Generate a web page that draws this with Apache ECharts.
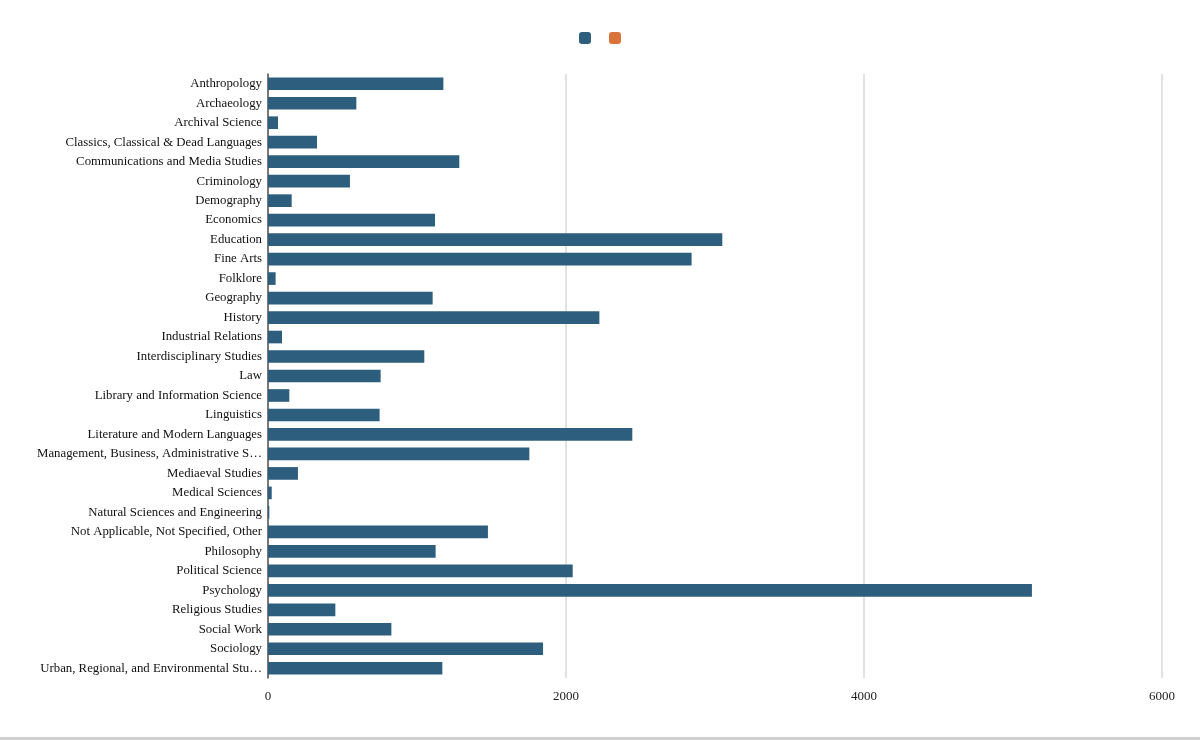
<!DOCTYPE html>
<html>
<head>
<meta charset="utf-8">
<script src="https://cdn.jsdelivr.net/npm/echarts@6/dist/echarts.min.js"></script>
<style>html,body{margin:0;padding:0;background:#fff}#chart{width:1200px;height:740px}</style>
</head>
<body>
<div id="chart"></div>
<script>
var categories = [
  "Anthropology","Archaeology","Archival Science","Classics, Classical & Dead Languages",
  "Communications and Media Studies","Criminology","Demography","Economics","Education",
  "Fine Arts","Folklore","Geography","History","Industrial Relations","Interdisciplinary Studies",
  "Law","Library and Information Science","Linguistics","Literature and Modern Languages",
  "Management, Business, Administrative S\u2026","Mediaeval Studies","Medical Sciences",
  "Natural Sciences and Engineering","Not Applicable, Not Specified, Other","Philosophy",
  "Political Science","Psychology","Religious Studies","Social Work","Sociology",
  "Urban, Regional, and Environmental Stu\u2026"
];
var seriesA = [1177,593,67,329,1284,550,159,1121,3049,2843,51,1105,2224,94,1049,756,143,749,2445,1754,201,25,9,1476,1125,2045,5127,452,828,1846,1170];
var seriesB = [];
var xTicks = [0,2000,4000,6000];

var chart = echarts.init(document.getElementById('chart'));
chart.setOption({
  animation: false,
  textStyle: { fontFamily: 'Liberation Serif' },
  legend: {
    top: 27, left: 'center',
    icon: 'roundRect', itemWidth: 12, itemHeight: 12, itemGap: 18,
    formatter: function(){ return ''; },
    data: ['A','B']
  },
  grid: { left: 268, right: 38, top: 74, bottom: 62, containLabel: false },
  xAxis: {
    type: 'value', min: xTicks[0], max: xTicks[xTicks.length-1], interval: 2000,
    axisLine: { show: false }, axisTick: { show: false },
    axisLabel: { color: '#222', fontSize: 13, margin: 12, fontFamily: 'Liberation Serif',
      formatter: function(v){ return String(v); } },
    splitLine: { show: true, lineStyle: { color: '#d9d9d9', width: 1.5 } }
  },
  yAxis: {
    type: 'category', data: categories, inverse: true,
    axisLine: { show: true, lineStyle: { color: '#555', width: 1.5 } },
    axisTick: { show: false },
    axisLabel: { color: '#111', fontSize: 12.8, margin: 6, fontFamily: 'Liberation Serif' }
  },
  series: [
    { name: 'A', type: 'bar', stack: 's', data: seriesA, barCategoryGap: '35%',
      itemStyle: { color: '#2e5e7e' } },
    { name: 'B', type: 'bar', stack: 's', data: seriesB,
      itemStyle: { color: '#d9733a' } }
  ],
  graphic: [
    { type: 'rect', shape: { x: 0, y: 737, width: 1200, height: 3 }, style: { fill: '#d0d0d0' } }
  ]
});
</script>
</body>
</html>
